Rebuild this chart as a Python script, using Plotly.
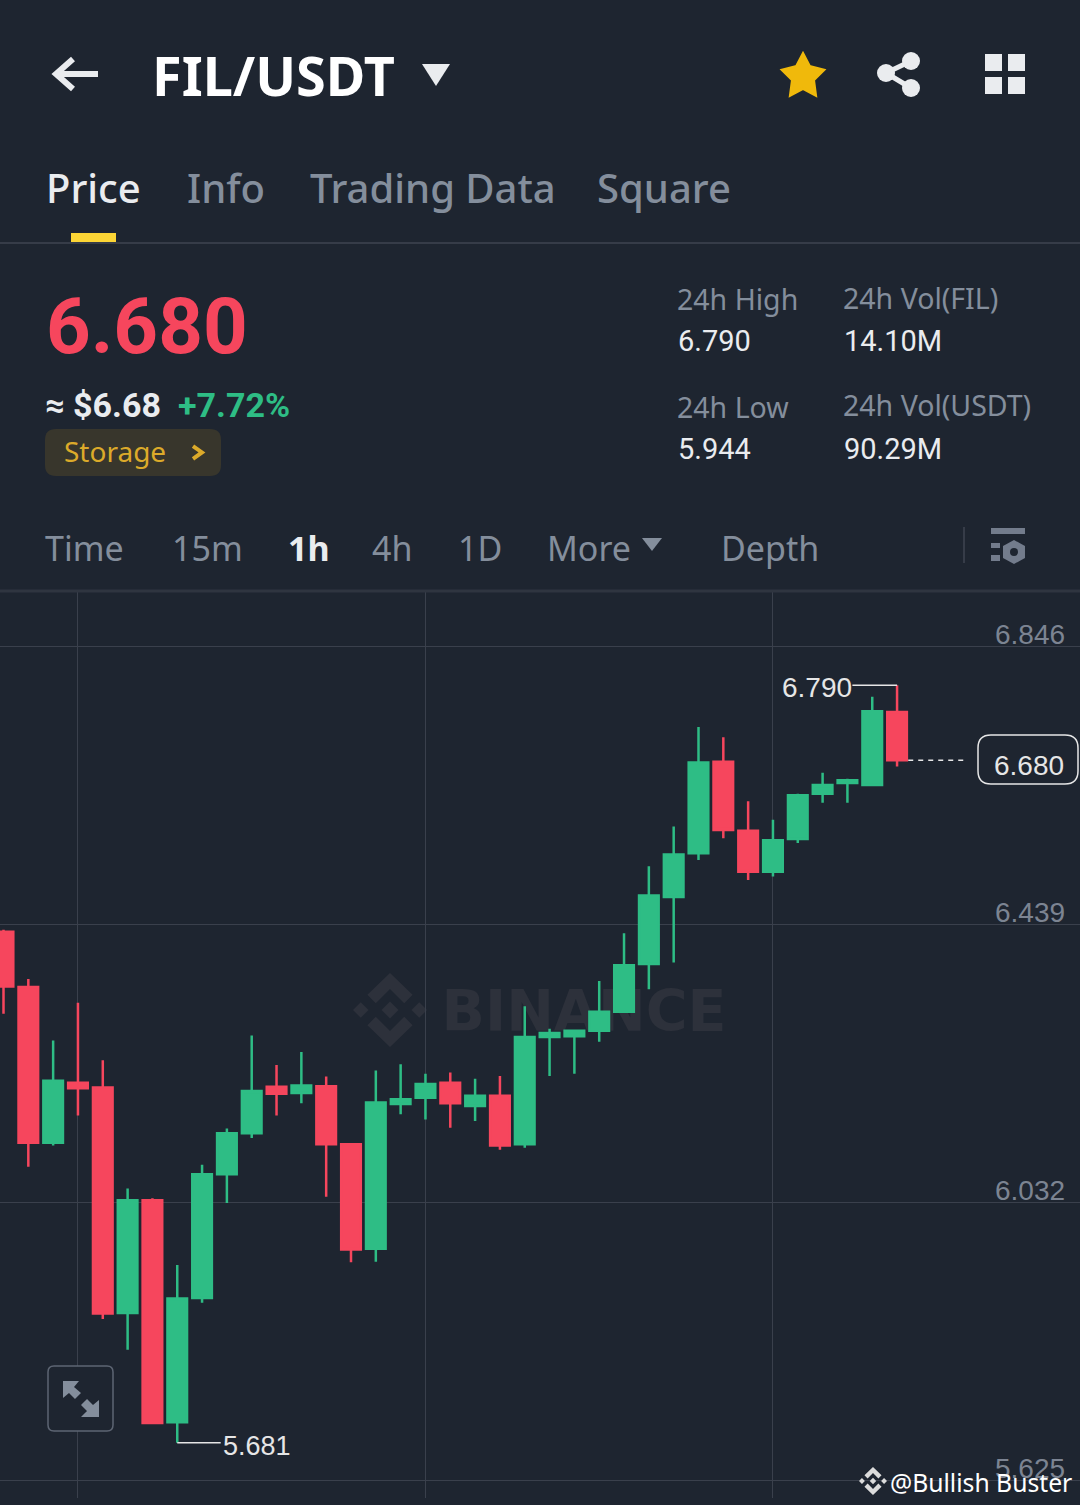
import plotly.graph_objects as go

# Candles, oldest first.
candle_index = list(range(37))
open_prices = [6.429, 6.348, 6.120, 6.208, 6.201, 5.871, 6.036, 5.711, 5.893, 6.074,
               6.134, 6.202, 6.193, 6.203, 6.118, 5.965, 6.177, 6.186, 6.208, 6.174,
               6.189, 6.118, 6.275, 6.276, 6.284, 6.312, 6.382, 6.480, 6.544, 6.678,
               6.577, 6.517, 6.565, 6.631, 6.647, 6.644, 6.751]
high_prices = [6.432, 6.360, 6.270, 6.325, 6.241, 6.053, 6.039, 5.941, 6.088, 6.141,
               6.277, 6.234, 6.253, 6.217, 6.119, 6.226, 6.235, 6.221, 6.223, 6.214,
               6.218, 6.320, 6.287, 6.285, 6.357, 6.427, 6.525, 6.583, 6.729, 6.714,
               6.620, 6.593, 6.631, 6.662, 6.653, 6.773, 6.790]
low_prices = [6.309, 6.085, 6.116, 6.160, 5.862, 5.817, 5.710, 5.681, 5.886, 6.032,
              6.127, 6.160, 6.178, 6.041, 5.945, 5.946, 6.162, 6.154, 6.142, 6.152,
              6.110, 6.113, 6.218, 6.221, 6.268, 6.310, 6.345, 6.384, 6.534, 6.566,
              6.505, 6.510, 6.559, 6.618, 6.618, 6.644, 6.671]
close_prices = [6.349, 6.120, 6.211, 6.200, 5.870, 6.036, 5.710, 5.892, 6.074, 6.134,
                6.196, 6.192, 6.204, 6.118, 5.964, 6.179, 6.184, 6.206, 6.178, 6.189,
                6.116, 6.275, 6.281, 6.284, 6.312, 6.380, 6.482, 6.542, 6.677, 6.578,
                6.517, 6.563, 6.629, 6.644, 6.651, 6.752, 6.680]

y_ticks = [6.846, 6.439, 6.032, 5.625]
y_tick_labels = ['6.846', '6.439', '6.032', '5.625']
x_grid = [3, 17, 31]
last_price = 6.680

tabs = ['Price', 'Info', 'Trading Data', 'Square']
tab_x = [44, 185, 308, 595]
intervals = ['Time', '15m', '1h', '4h', '1D', 'More', 'Depth']
interval_x = [43, 170, 286, 370, 456, 545, 719]

W, H = 1080, 1505
BG = '#1e2530'
RED = '#f6465d'
GREEN = '#2ebd85'
WHITE = '#eaecef'
GREY = '#848e9c'
GRID = '#3a404c'
UI_FONT = 'Noto Sans'
CHART_FONT = 'Liberation Sans'


def px(x):
    return x / W


def py(y):
    return 1 - y / H


def poly(points, close=True):
    path = 'M ' + ' L '.join(f'{px(x):.5f},{py(y):.5f}' for x, y in points)
    return path + (' Z' if close else '')


def rounded(x0, y0, x1, y1, r):
    p = lambda x, y: f'{px(x):.5f},{py(y):.5f}'
    return (f'M {p(x0 + r, y0)} L {p(x1 - r, y0)} Q {p(x1, y0)} {p(x1, y0 + r)} '
            f'L {p(x1, y1 - r)} Q {p(x1, y1)} {p(x1 - r, y1)} '
            f'L {p(x0 + r, y1)} Q {p(x0, y1)} {p(x0, y1 - r)} '
            f'L {p(x0, y0 + r)} Q {p(x0, y0)} {p(x0 + r, y0)} Z')


shapes = []
annotations = []


def fill(path, color, layer='above'):
    shapes.append(dict(type='path', path=path, xref='paper', yref='paper', fillcolor=color,
                       line=dict(width=0), layer=layer))


def stroke(points, color, width):
    shapes.append(dict(type='path', path=poly(points, close=False), xref='paper', yref='paper',
                       line=dict(color=color, width=width)))


def circle(cx, cy, r, color):
    shapes.append(dict(type='circle', xref='paper', yref='paper', x0=px(cx - r), x1=px(cx + r),
                       y0=py(cy + r), y1=py(cy - r), fillcolor=color, line=dict(width=0)))


def label(text, x, y, size, color, weight=400, family=UI_FONT, anchor='left'):
    annotations.append(dict(text=text, x=px(x), y=py(y), xref='paper', yref='paper',
                            xanchor=anchor, yanchor='middle', showarrow=False,
                            font=dict(size=size, color=color, family=family, weight=weight)))


def logo(cx, cy, s, color, layer='above'):
    def pts(items):
        return poly([(cx + a * s, cy + b * s) for a, b in items])
    fill(pts([(0, -.23), (.23, 0), (0, .23), (-.23, 0)]), color, layer)
    fill(pts([(-.79, -.21), (-.58, 0), (-.79, .21), (-1, 0)]), color, layer)
    fill(pts([(.79, -.21), (1, 0), (.79, .21), (.58, 0)]), color, layer)
    fill(pts([(0, -1), (.61, -.41), (.385, -.18), (0, -.57), (-.385, -.18), (-.61, -.41)]), color, layer)
    fill(pts([(0, 1), (.61, .41), (.385, .18), (0, .57), (-.385, .18), (-.61, .41)]), color, layer)


# Header.
stroke([(98, 74), (56, 74)], WHITE, 6)
stroke([(73, 59), (56, 74), (73, 89)], WHITE, 6)
label('FIL/USDT', 150, 75, 54, '#ffffff', 700)
fill(poly([(422, 64), (450, 64), (436, 86)]), WHITE)
shapes.append(dict(type='path', xref='paper', yref='paper', fillcolor='#f0b90b',
                   line=dict(color='#f0b90b', width=3),
                   path=poly([(803, 54), (809.5, 66.5), (823.5, 70), (813.5, 80), (815.5, 95), (803, 88.5),
                              (790.5, 95), (792.5, 80), (782.5, 70), (796.5, 66.5)])))
stroke([(911, 61), (886, 73), (911, 88)], WHITE, 5)
circle(911, 61, 9, WHITE)
circle(886, 73, 9, WHITE)
circle(911, 88, 9, WHITE)
for x0, y0 in [(985, 54), (1008, 54), (985, 77), (1008, 77)]:
    fill(poly([(x0, y0), (x0 + 17, y0), (x0 + 17, y0 + 17), (x0, y0 + 17)]), WHITE)

# Tabs.
for i, tab in enumerate(tabs):
    label(tab, tab_x[i], 188, 40, WHITE if tab == 'Price' else GREY, 500)
fill(poly([(71, 233), (116, 233), (116, 242), (71, 242)]), '#fcd535')
stroke([(0, 243), (W, 243)], '#363c48', 2)

# Price block.
label('6.680', 44, 327, 78, RED, 700, 'Roboto')
label('≈ $6.68', 43, 405, 34, WHITE, 700, 'Roboto')
label('+7.72%', 176, 405, 34, GREEN, 700, 'Roboto')
fill(rounded(45, 429, 221, 476, 11), '#38362c')
label('Storage', 62, 451, 28, '#dcaa2a')
stroke([(193, 446), (202, 452.5), (193, 459)], '#dcaa2a', 4)

label('24h High', 675, 299, 28.5, GREY)
label('6.790', 676, 341, 29, WHITE, 400, 'Roboto')
label('24h Low', 675, 407, 28.5, GREY)
label('5.944', 676, 449, 29, WHITE, 400, 'Roboto')
label('24h Vol(FIL)', 841, 298, 28.5, GREY)
label('14.10M', 842, 341, 29, WHITE, 400, 'Roboto')
label('24h Vol(USDT)', 841, 405, 28.5, GREY)
label('90.29M', 842, 449, 29, WHITE, 400, 'Roboto')

# Interval bar.
for i, name in enumerate(intervals):
    active = name == '1h'
    label(name, interval_x[i], 548, 34, WHITE if active else GREY, 700 if active else 400)
fill(poly([(642, 538), (662, 538), (652, 551)]), GREY)
stroke([(964, 527), (964, 563)], '#363c48', 2)
fill(poly([(991, 528), (1025, 528), (1025, 534), (991, 534)]), '#737c8c')
fill(poly([(991, 543), (1000, 543), (1000, 548), (991, 548)]), '#737c8c')
fill(poly([(991, 555), (1000, 555), (1000, 561), (991, 561)]), '#737c8c')
fill(poly([(1014, 540), (1025, 546), (1025, 558), (1014, 564), (1003, 558), (1003, 546)]), '#737c8c')
circle(1014, 552, 4, BG)
stroke([(0, 591), (W, 591)], '#2f3540', 3)

# Watermark sits under the candles, so it goes in as a shape label.
logo(390, 1010, 37, '#2d313b', 'below')
shapes.append(dict(type='rect', xref='paper', yref='paper', x0=px(435), x1=px(733), y0=py(1042),
                   y1=py(972), line=dict(width=0), layer='below',
                   label=dict(text='BINANCE', textposition='middle center',
                              font=dict(size=57, color='#2d313b', family='DejaVu Sans', weight=700))))

# Axis labels above their grid lines.
for tick, text in zip(y_ticks, y_tick_labels):
    annotations.append(dict(text=text, x=px(1067), y=tick, xref='paper', yref='y', xanchor='right',
                            yanchor='bottom', showarrow=False, yshift=-5,
                            font=dict(size=28, color='#7c8492', family=CHART_FONT)))

# High and low markers.
high_i = high_prices.index(max(high_prices))
low_i = low_prices.index(min(low_prices))
shapes.append(dict(type='line', xref='x', yref='y', x0=34.2, x1=high_i, y0=high_prices[high_i],
                   y1=high_prices[high_i], line=dict(color='#e6e6e6', width=1.5)))
shapes.append(dict(type='line', xref='x', yref='y', x0=low_i, x1=8.75, y0=low_prices[low_i],
                   y1=low_prices[low_i], line=dict(color='#e6e6e6', width=1.5)))
annotations.append(dict(text=f'{high_prices[high_i]:.3f}', x=34.25, y=high_prices[high_i], xref='x',
                        yref='y', xanchor='right', yanchor='middle', showarrow=False, yshift=-2,
                        font=dict(size=28, color='#e6e6e6', family=CHART_FONT)))
annotations.append(dict(text=f'{low_prices[low_i]:.3f}', x=8.75, y=low_prices[low_i], xref='x',
                        yref='y', xanchor='left', yanchor='middle', showarrow=False, yshift=-3,
                        font=dict(size=27, color='#e6e6e6', family=CHART_FONT)))

# Last price.
shapes.append(dict(type='line', xref='x', yref='y', x0=36.45, x1=38.7, y0=last_price, y1=last_price,
                   line=dict(color='#e6e6e6', width=1.5, dash='5px 5px')))
shapes.append(dict(type='path', path=rounded(978, 735, 1078, 784, 13), xref='paper', yref='paper',
                   fillcolor=BG, line=dict(color='#e6e6e6', width=1.5)))
label(f'{last_price:.3f}', 1029, 765, 28, '#e6e6e6', family=CHART_FONT, anchor='center')

# Expand button.
shapes.append(dict(type='path', path=rounded(48, 1366, 113, 1431, 6), xref='paper', yref='paper',
                   fillcolor=BG, line=dict(color='#5d6573', width=1.5)))
fill(poly([(63, 1381), (79, 1381), (74, 1387), (81, 1393), (75, 1399), (69, 1393), (63, 1398)]), GREY)
fill(poly([(99, 1417), (81, 1417), (87, 1411), (81, 1405), (87, 1399), (93, 1405), (99, 1400)]), GREY)

# Credit overlay.
logo(873, 1481, 14, '#dcdcdc')
label('@Bullish Buster', 888, 1482, 24.7, '#ffffff')

fig = go.Figure(go.Candlestick(
    x=candle_index, open=open_prices, high=high_prices, low=low_prices, close=close_prices,
    increasing=dict(line=dict(color=GREEN, width=2.5), fillcolor=GREEN),
    decreasing=dict(line=dict(color=RED, width=2.5), fillcolor=RED),
    whiskerwidth=0,
))

fig.update_layout(
    width=W, height=H, margin=dict(l=0, r=0, t=0, b=0),
    paper_bgcolor=BG, plot_bgcolor='rgba(0,0,0,0)', showlegend=False,
    boxgap=0.21, boxgroupgap=0,
    shapes=shapes, annotations=annotations,
    xaxis=dict(range=[-0.141, 43.37], rangeslider=dict(visible=False), tickvals=x_grid,
               showticklabels=False, showgrid=True, gridcolor=GRID, gridwidth=1,
               zeroline=False, showline=False, ticks=''),
    yaxis=dict(domain=[0.00465, 0.60664], range=[5.600, 6.9265], tickvals=y_ticks,
               showticklabels=False, showgrid=True, gridcolor=GRID, gridwidth=1,
               zeroline=False, showline=False, ticks=''),
)

fig.write_html('out.html', config=dict(displayModeBar=False),
               post_script="document.body.style.margin='0';")
